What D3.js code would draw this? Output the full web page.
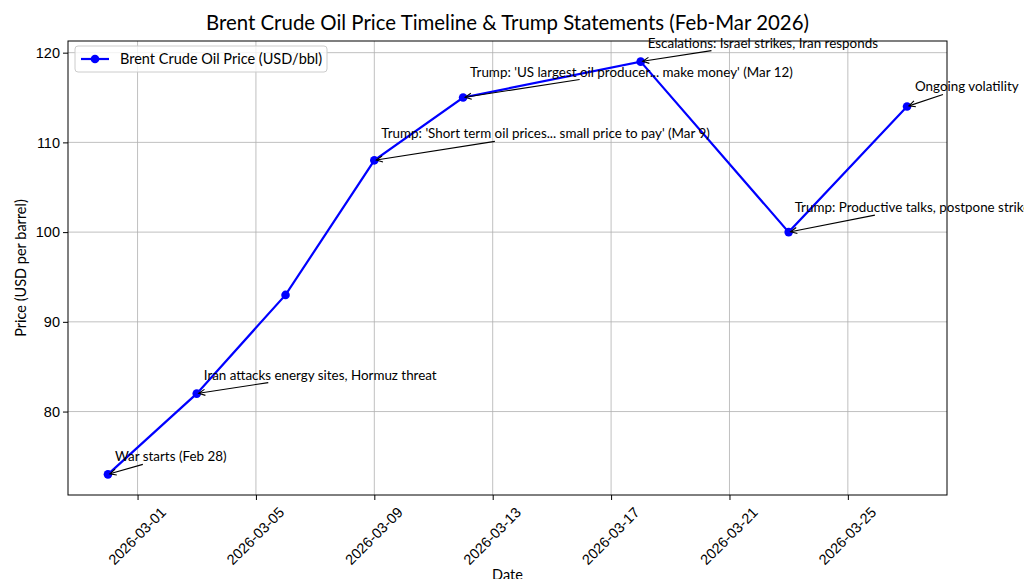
<!DOCTYPE html>
<html>
<head>
<meta charset="utf-8">
<script src="https://cdn.jsdelivr.net/npm/d3@7"></script>
<style>
  body { margin: 0; background: #fff; }
  svg { font-family: Lato, "Noto Sans", sans-serif; }
</style>
</head>
<body>
<svg id="chart" width="1024" height="579"></svg>
<script>
// Dados da série
const dates = ["2026-02-28", "2026-03-03", "2026-03-06", "2026-03-09", "2026-03-12", "2026-03-18", "2026-03-23", "2026-03-27"];
const prices = [73, 82, 93, 108, 115, 119, 100, 114];

// Anotações (índice do ponto, texto)
const noteIndex = [0, 1, 3, 4, 5, 6, 7];
const noteText = [
    "War starts (Feb 28)",
    "Iran attacks energy sites, Hormuz threat",
    "Trump: 'Short term oil prices... small price to pay' (Mar 9)",
    "Trump: 'US largest oil producer... make money' (Mar 12)",
    "Escalations: Israel strikes, Iran responds",
    "Trump: Productive talks, postpone strikes",
    "Ongoing volatility"
];
// deslocamento do texto em pixels (tipo offset points)
const noteOffset = [[7, -13], [7, -14], [7, -22], [7, -21], [7, -14], [6, -20], [8, -15]];

const xTicks = ["2026-03-01", "2026-03-05", "2026-03-09", "2026-03-13", "2026-03-17", "2026-03-21", "2026-03-25"];
const yTicks = [80, 90, 100, 110, 120];

const titleText = "Brent Crude Oil Price Timeline & Trump Statements (Feb-Mar 2026)";
const seriesName = "Brent Crude Oil Price (USD/bbl)";

const parse = d3.utcParse("%Y-%m-%d");
const data = dates.map((d, i) => ({ date: parse(d), price: prices[i] }));

const M = { left: 68, right: 947, top: 41, bottom: 495 };
const svg = d3.select("#chart");

// margens de 5% como no matplotlib
const t0 = data[0].date.getTime(), t1 = data[data.length - 1].date.getTime();
const tpad = (t1 - t0) * 0.05;
const x = d3.scaleUtc().domain([new Date(t0 - tpad), new Date(t1 + tpad)]).range([M.left, M.right]);
const pMin = d3.min(prices), pMax = d3.max(prices), ppad = (pMax - pMin) * 0.05;
const y = d3.scaleLinear().domain([pMin - ppad, pMax + ppad]).range([M.bottom, M.top]);

// Grade
const grid = svg.append("g");
xTicks.forEach(t => {
    grid.append("line").attr("x1", x(parse(t))).attr("x2", x(parse(t)))
        .attr("y1", M.top).attr("y2", M.bottom)
        .attr("stroke", "#b0b0b0").attr("stroke-width", 0.8);
});
yTicks.forEach(t => {
    grid.append("line").attr("x1", M.left).attr("x2", M.right)
        .attr("y1", y(t)).attr("y2", y(t))
        .attr("stroke", "#b0b0b0").attr("stroke-width", 0.8);
});

// Eixos
const xAxis = svg.append("g").attr("transform", `translate(0,${M.bottom})`)
    .call(d3.axisBottom(x).tickValues(xTicks.map(parse)).tickFormat(d3.utcFormat("%Y-%m-%d")).tickSize(5).tickSizeOuter(0));
xAxis.select(".domain").remove();
xAxis.selectAll("text")
    .attr("font-size", 14.5).attr("fill", "#000")
    .attr("text-anchor", "middle")
    .attr("dy", "0.35em")
    .attr("y", 0).attr("x", 0)
    .attr("transform", "translate(-1,41) rotate(-45)");

const yAxis = svg.append("g").attr("transform", `translate(${M.left},0)`)
    .call(d3.axisLeft(y).tickValues(yTicks).tickSize(5).tickSizeOuter(0));
yAxis.select(".domain").remove();
yAxis.selectAll("text").attr("font-size", 14.5).attr("fill", "#000").attr("x", -8);

svg.append("rect").attr("x", M.left).attr("y", M.top)
    .attr("width", M.right - M.left).attr("height", M.bottom - M.top)
    .attr("fill", "none").attr("stroke", "#000").attr("stroke-width", 1);

// Linha
const line = d3.line().x(d => x(d.date)).y(d => y(d.price));
svg.append("path").datum(data).attr("d", line)
    .attr("fill", "none").attr("stroke", "#0000ff").attr("stroke-width", 2.2);
svg.selectAll(".pt").data(data).enter().append("circle")
    .attr("cx", d => x(d.date)).attr("cy", d => y(d.price)).attr("r", 4.3)
    .attr("fill", "#0000ff");

// Anotações
const notes = svg.append("g");
noteIndex.forEach((idx, k) => {
    const d = data[idx];
    const px = x(d.date), py = y(d.price);
    const tx = px + noteOffset[k][0], ty = py + noteOffset[k][1];
    const txt = notes.append("text").attr("x", tx).attr("y", ty)
        .attr("font-size", 13.4).attr("fill", "#000").text(noteText[k]);
    const bb = txt.node().getBBox();
    const cx = bb.x + bb.width / 2, cy = bb.y + bb.height / 2;
    // recorta a seta na caixa do texto
    const dx = px - cx, dy = py - cy;
    let s = Infinity;
    if (dx !== 0) s = Math.min(s, (bb.width / 2) / Math.abs(dx));
    if (dy !== 0) s = Math.min(s, (bb.height / 2) / Math.abs(dy));
    const sx = cx + dx * s, sy = cy + dy * s;
    const len = Math.hypot(px - sx, py - sy);
    const ux = (px - sx) / len, uy = (py - sy) / len;
    const ex = px - ux * 2, ey = py - uy * 2;
    notes.append("line").attr("x1", sx).attr("y1", sy).attr("x2", ex).attr("y2", ey)
        .attr("stroke", "#000").attr("stroke-width", 1.1);
    // cabeça "->"
    const ang = Math.atan2(uy, ux), h = 7, a = 0.45;
    const head = d3.path();
    head.moveTo(ex - h * Math.cos(ang - a), ey - h * Math.sin(ang - a));
    head.lineTo(ex, ey);
    head.lineTo(ex - h * Math.cos(ang + a), ey - h * Math.sin(ang + a));
    notes.append("path").attr("d", head.toString())
        .attr("fill", "none").attr("stroke", "#000").attr("stroke-width", 1.1);
});

// Títulos
svg.append("text").attr("x", (M.left + M.right) / 2).attr("y", 30)
    .attr("text-anchor", "middle").attr("font-size", 20.4).attr("fill", "#000").text(titleText);
svg.append("text").attr("x", (M.left + M.right) / 2).attr("y", 580)
    .attr("text-anchor", "middle").attr("font-size", 14.5).attr("fill", "#000").text("Date");
svg.append("text").attr("transform", `translate(26,${(M.top + M.bottom) / 2}) rotate(-90)`)
    .attr("text-anchor", "middle").attr("font-size", 14.5).attr("fill", "#000").text("Price (USD per barrel)");

// Legenda
const lg = svg.append("g").attr("transform", "translate(75,46)");
lg.append("rect").attr("width", 252).attr("height", 26).attr("rx", 3)
    .attr("fill", "#fff").attr("fill-opacity", 0.8).attr("stroke", "#ccc");
lg.append("line").attr("x1", 6).attr("x2", 34).attr("y1", 13).attr("y2", 13)
    .attr("stroke", "#0000ff").attr("stroke-width", 2.2);
lg.append("circle").attr("cx", 20).attr("cy", 13).attr("r", 4.3).attr("fill", "#0000ff");
lg.append("text").attr("x", 45).attr("y", 18).attr("font-size", 14.5).attr("fill", "#000").text(seriesName);
</script>
</body>
</html>
